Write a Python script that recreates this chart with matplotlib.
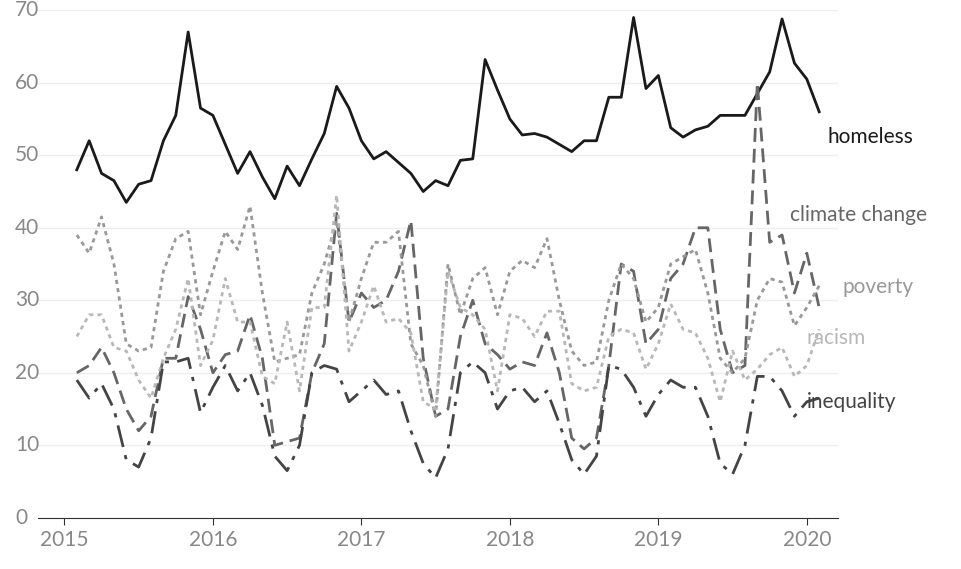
import numpy as np
import matplotlib.pyplot as plt
import matplotlib.transforms as mtransforms

homeless = [48, 52, 47.5, 46.5, 43.5, 46, 46.5, 52, 55.5, 67, 56.5, 55.5, 51.5, 47.5, 50.5, 47, 44, 48.5,
            45.8, 49.5, 53, 59.5, 56.5, 52, 49.5, 50.5, 49, 47.5, 45, 46.5, 45.8, 49.3, 49.5, 63.2, 59, 55,
            52.8, 53, 52.5, 51.5, 50.5, 52, 52, 58, 58, 69, 59.2, 61, 53.8, 52.5, 53.5, 54, 55.5, 55.5, 55.5,
            58.5, 61.5, 68.8, 62.7, 60.5, 56]
climate = [20, 21, 23.5, 20, 15, 12, 14, 22, 22, 30.5, 26, 20, 22.5, 23, 28, 22, 10, 10.5, 11, 20, 24, 42,
           27, 31, 29, 30, 34, 41, 22, 14, 15, 25, 30, 24, 22.5, 20.5, 21.5, 21, 25.5, 20, 11, 9.5, 11, 21,
           35, 34, 24, 26, 33, 35, 40, 40, 26, 20, 21, 60, 38, 39, 31, 36.5, 29]
poverty = [39, 36.5, 41.5, 35, 24, 23, 23.5, 34, 38.5, 39.5, 28, 34, 39.5, 37, 43, 31, 21.5, 22, 22.5, 31,
           35, 41, 27, 33, 38, 38, 39.5, 24, 21, 14, 35, 28, 33, 34.5, 28, 34, 35.5, 34.5, 38.5, 30, 23, 21,
           21.5, 30, 35, 33, 27, 29, 35, 36, 37, 31, 22, 20, 22, 30, 33, 32.5, 26.5, 29, 32]
racism = [25, 28, 28, 23.5, 23, 19, 16.5, 22, 26, 33, 21, 24.5, 33, 27, 27, 19.5, 18.5, 27, 17.5, 29, 29,
          44.5, 23, 27, 32, 27, 27.5, 25.5, 16, 15, 34, 29, 28, 26, 17.5, 28, 27.5, 25, 28.5, 28.5, 18.5,
          17.5, 18, 25, 26, 25.5, 20.5, 24, 29.5, 26, 25.5, 22, 16, 23, 19, 20.5, 22.5, 23.5, 19.5, 21, 26]
inequality = [19, 16.5, 18.5, 15, 8, 7, 11, 21.5, 21.5, 22, 14.5, 18, 21, 17.5, 20, 15.5, 8.5, 6.5, 10, 20,
              21, 20.5, 16, 17.5, 19, 17, 17.5, 12, 7.5, 5.5, 9.5, 20, 21.5, 20, 15, 17.5, 18, 16, 17.5, 13,
              8, 6, 8.5, 21, 20.5, 18, 14, 17, 19, 18, 18, 14, 7.5, 6, 10, 19.5, 19.5, 17.5, 14, 16, 16.5]

# name, values, colour, linestyle, label position (year, value)
series = [
    ("homeless", homeless, "#1a1a1a", "-", (2020.14, 52.5)),
    ("climate change", climate, "#666666", (0, (5, 2.5)), (2019.89, 41.7)),
    ("poverty", poverty, "#999999", (0, (1.5, 1.5)), (2020.24, 31.8)),
    ("racism", racism, "#b8b8b8", (0, (1.5, 1.5)), (2020.0, 24.8)),
    ("inequality", inequality, "#444444", (0, (8, 3, 1.5, 3)), (2020.0, 16)),
]

fig, ax = plt.subplots(figsize=(9.61, 5.69), dpi=100)
for name, values, color, ls, (lx, ly) in series:
    x = 2015 + (1 + np.arange(len(values))) / 12
    ax.plot(x, values, color=color, linestyle=ls, linewidth=2)
    ax.text(lx, ly, name, color=color, fontsize=15, va="center", family="Lato")

ax.set_xlim(2014.825, 2020.21)
ax.set_ylim(0, 70)
yticks = list(range(0, 71, 10))
ax.set_yticks(yticks)
ax.set_yticklabels([])
trans = mtransforms.blended_transform_factory(ax.transAxes, ax.transData)
for t in yticks:
    ax.text(-0.029, t, str(t), transform=trans, ha="left", va="center",
            fontsize=15, color="#888888", family="Lato")
ax.set_xticks(range(2015, 2021))
ax.grid(axis="y", color="#eeeeee", linewidth=1)
ax.set_axisbelow(True)
for s in ["left", "right", "top"]:
    ax.spines[s].set_visible(False)
ax.spines["bottom"].set_color("#333333")
ax.tick_params(axis="y", length=0)
ax.tick_params(axis="x", labelsize=15, labelcolor="#888888", color="#333333", length=5)
for lbl in ax.get_xticklabels():
    lbl.set_family("Lato")
fig.subplots_adjust(left=0.04, right=0.872, top=0.982, bottom=0.09)
fig.savefig("out.png", dpi=100)
